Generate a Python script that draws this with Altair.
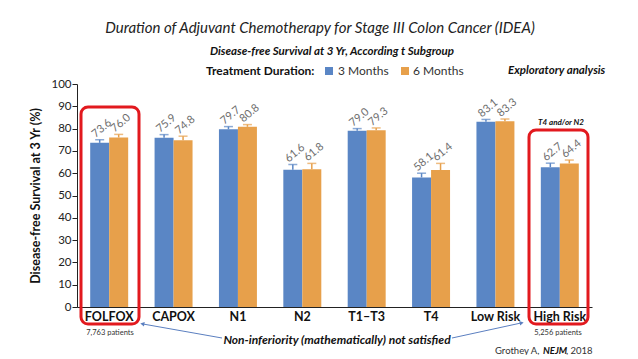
import altair as alt
import pandas as pd

categories = ["FOLFOX", "CAPOX", "N1", "N2", "T1\u2013T3", "T4", "Low Risk", "High Risk"]
durations = ["3 Months", "6 Months"]
dfs_3mo = [73.6, 75.9, 79.7, 61.6, 79.0, 58.1, 83.1, 62.7]
dfs_6mo = [76.0, 74.8, 80.8, 61.8, 79.3, 61.4, 83.3, 64.4]
err_3mo = [1.4, 1.4, 1.2, 2.3, 1.0, 1.9, 1.0, 1.8]
err_6mo = [1.4, 1.8, 1.0, 2.6, 1.0, 3.0, 1.0, 1.5]
y_ticks = [0, 10, 20, 30, 40, 50, 60, 70, 80, 90, 100]

TITLE = "Duration of Adjuvant Chemotherapy for Stage III Colon Cancer (IDEA)"
SUBTITLE = "Disease-free Survival at 3 Yr, According t Subgroup"
LEGEND_TITLE = "Treatment Duration:"
EXPLORATORY = "Exploratory analysis"
HIGH_RISK_NOTE = "T4 and/or N2"
FOLFOX_N = "7,763 patients"
HIGH_N = "5,256 patients"
NONINF = "Non-inferiority (mathematically) not satisfied"
CITE_1 = "Grothey A,"
CITE_2 = "NEJM"
CITE_3 = ", 2018"
Y_TITLE = "Disease-free Survival at 3 Yr (%)"

BLUE = "#5A86C5"
ORANGE = "#E7A04B"
RED = "#E2191E"
ARROW = "#5B7FC0"
FONT = "Lato"

rows = []
for i, c in enumerate(categories):
    rows.append({"cat": c, "dur": durations[0], "value": dfs_3mo[i], "upper": dfs_3mo[i] + err_3mo[i],
                 "label": f"{dfs_3mo[i]:.1f}"})
    rows.append({"cat": c, "dur": durations[1], "value": dfs_6mo[i], "upper": dfs_6mo[i] + err_6mo[i],
                 "label": f"{dfs_6mo[i]:.1f}"})
df = pd.DataFrame(rows)

xenc = alt.X("cat:N", sort=categories,
             scale=alt.Scale(paddingInner=0.41, paddingOuter=0.205),
             axis=alt.Axis(title=None, labelAngle=0, labelFontWeight="bold", labelFontSize=12.5,
                           labelColor="#111", labelPadding=3, ticks=False, domainColor="#222",
                           labelFont=FONT))
xoff = alt.XOffset("dur:N", sort=durations, scale=alt.Scale(paddingInner=0, paddingOuter=0))
color = alt.Color("dur:N", sort=durations, scale=alt.Scale(domain=durations, range=[BLUE, ORANGE]),
                  legend=None)
yscale = alt.Scale(domain=[0, 100], nice=False)
yaxis = alt.Axis(values=y_ticks, tickCount=11, grid=False, title=Y_TITLE, titleFontSize=12.5,
                 titleFontWeight="bold", titleColor="#111", titleFont=FONT,
                 titlePadding=8, labelFontSize=11.5, labelColor="#222", labelFont=FONT,
                 labelOverlap=False, labelFlush=False,
                 tickSize=5, tickColor="#222", domainColor="#222", labelPadding=1)

base = alt.Chart(df)
bars = base.mark_bar().encode(
    x=xenc, xOffset=xoff, y=alt.Y("value:Q", scale=yscale, axis=yaxis), color=color)
errs = base.mark_rule(strokeWidth=1.5).encode(
    x=xenc, xOffset=xoff, y=alt.Y("value:Q", scale=yscale, axis=yaxis), y2="upper:Q", color=color)
caps = base.mark_tick(size=9, thickness=1.5).encode(
    x=xenc, xOffset=xoff, y=alt.Y("upper:Q", scale=yscale, axis=yaxis), color=color)
labels = base.mark_text(angle=320, align="left", baseline="alphabetic", dx=-2, dy=-4,
                        fontSize=11, color="#6e6e6e", font=FONT).encode(
    x=xenc, xOffset=xoff, y=alt.Y("upper:Q", scale=yscale, axis=yaxis), text="label:N")

one = pd.DataFrame({"k": [0]})


def txt(s, x, y, size, weight="normal", style="normal", align="center", color="#111"):
    return alt.Chart(one).mark_text(text=s, fontSize=size, fontWeight=weight, fontStyle=style,
                                    align=align, baseline="middle", color=color, font=FONT).encode(
        x=alt.value(x), y=alt.value(y))


def rect(x, x2, y, y2, **kw):
    return alt.Chart(one).mark_rect(**kw).encode(x=alt.value(x), x2=alt.value(x2),
                                                 y=alt.value(y), y2=alt.value(y2))


def line(x, x2, y, y2):
    return alt.Chart(one).mark_rule(color=ARROW, strokeWidth=1).encode(
        x=alt.value(x), x2=alt.value(x2), y=alt.value(y), y2=alt.value(y2))


def head(x, y, ang):
    return alt.Chart(one).mark_point(shape="triangle", filled=True, size=22, angle=ang,
                                     color=ARROW, opacity=1).encode(x=alt.value(x), y=alt.value(y))


annos = [
    txt(TITLE, 243, -56, 15, style="italic", color="#222"),
    txt(SUBTITLE, 255, -32, 11.5, weight="bold", style="italic"),
    txt(LEGEND_TITLE, 129, -13, 12, weight="bold", align="left"),
    rect(248, 256, -17, -9, color=BLUE),
    txt(durations[0], 261, -13, 12, align="left", color="#333"),
    rect(324, 332, -17, -9, color=ORANGE),
    txt(durations[1], 336, -13, 12, align="left", color="#333"),
    txt(EXPLORATORY, 431, -13, 11.5, weight="bold", style="italic", align="left"),
    txt(HIGH_RISK_NOTE, 484, 39, 8, weight="bold", style="italic"),
    txt(FOLFOX_N, 33, 249, 7.5, color="#333"),
    txt(HIGH_N, 481, 249, 7.5, color="#333"),
    txt(NONINF, 260, 256, 12, weight="bold", style="italic"),
    txt(CITE_1, 418, 267, 9.5, align="left", color="#333"),
    txt(CITE_2, 466, 267, 9.5, weight="bold", style="italic", align="left"),
    txt(CITE_3, 489, 267, 9.5, align="left", color="#333"),
    rect(4, 62, 23, 240, filled=False, stroke=RED, strokeWidth=3, cornerRadius=7),
    rect(452, 511, 46, 240, filled=False, stroke=RED, strokeWidth=3, cornerRadius=7),
    line(145, 66, 254, 240),
    head(66, 240, 280),
    line(375, 444, 254, 239),
    head(444, 239, 77),
]

chart = alt.layer(bars, errs, caps, labels, *annos).properties(
    width=515, height=223,
    padding={"left": 69, "top": 76, "right": 30, "bottom": 48},
    autosize=alt.AutoSizeParams(type="none"),
    background="white",
).configure_view(stroke=None)

chart.save("out.html", embed_options={"renderer": "svg", "actions": False})
